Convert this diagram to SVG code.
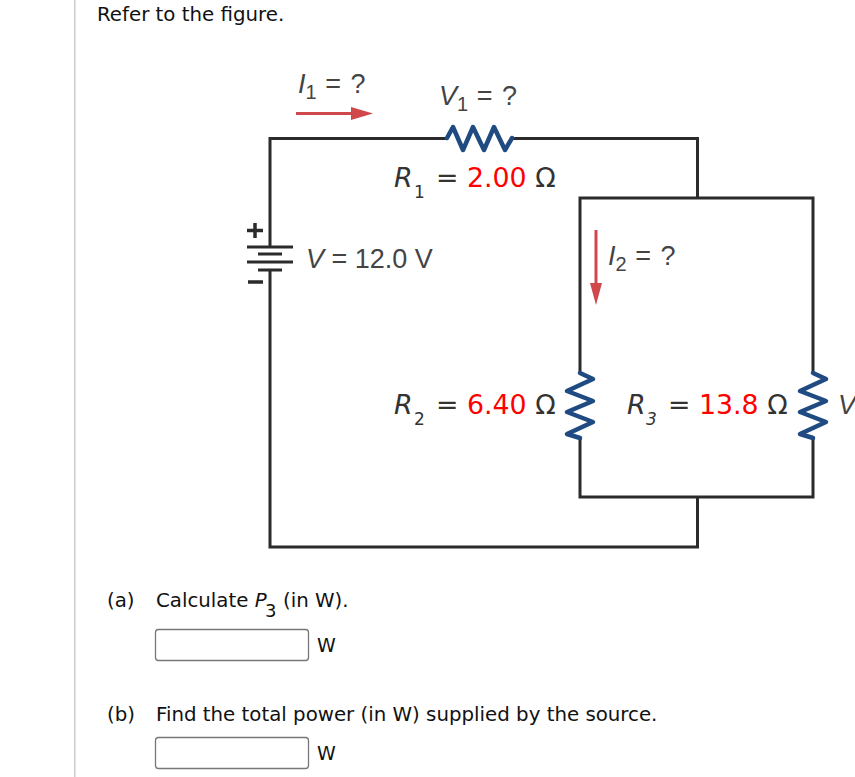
<svg xmlns="http://www.w3.org/2000/svg" width="855" height="777" viewBox="0 0 855 777">
<style>
text{font-family:"DejaVu Sans",Verdana,sans-serif}
.q{font-size:19.800px;fill:#111}
.f{font-size:26.800px;fill:#333}
.r{fill:#f00}
.s{font-size:17px}
.g{font-family:"Liberation Sans",Arial,sans-serif;font-size:27px;fill:#444}
.gs{font-size:20px}
.e{letter-spacing:1px}
.i{font-style:italic}
.w{fill:none;stroke:#2b2b2b;stroke-width:3;stroke-linejoin:miter}
.res{fill:none;stroke:#1f4a82;stroke-width:4.500;stroke-linejoin:round;stroke-linecap:round}
.b{fill:#fff;stroke:#777;stroke-width:1.3}
</style>
<defs>
<path id="zz" class="res" d="M0 0L13 6L-13 18L13 28L-13 39L13 49L-13 61L0 65"/>
</defs>
<rect width="855" height="777" fill="#fff"/>
<rect x="74" y="0" width="1.500" height="777" fill="#ccc"/>
<text class="q" x="97" y="21">Refer to the figure.</text>
<g id="connectors">
<path class="w" d="M270 247V138.500H447M512 138.500H697.500V198M580 373V198H813V373M580 438V497H813V438M697.500 497V547H270V270"/>
</g>
<g id="battery">
<path fill="none" stroke="#2b2b2b" stroke-width="3" d="M247 247H293M258 254H282M247 262H293M258 270H282"/>
<path fill="none" stroke="#2b2b2b" stroke-width="3.500" d="M247 230.500H263M255 223V238M248 282H263"/>
<text class="g" x="306" y="268"><tspan class="i">V</tspan> = 12.0 V</text>
</g>
<g id="r1">
<path class="res" d="M447 138L453 127L463 150L473 127L484 150L494 127L505 150L512 138"/>
<text class="g" x="439" y="105"><tspan class="i">V</tspan><tspan class="gs" dy="6">1</tspan><tspan class="e" dy="-6"> = ?</tspan></text>
<text class="f" x="394" y="187"><tspan class="i">R</tspan></text>
<text class="s" x="414" y="198" fill="#333">1</text>
<text class="f" x="436" y="187">= <tspan class="r">2.00</tspan> Ω</text>
</g>
<g id="i1">
<text class="g" x="298" y="93"><tspan class="i">I</tspan><tspan class="gs" dy="6">1</tspan><tspan class="e" dy="-6"> = ?</tspan></text>
<path d="M296 113.500H352" stroke="#d0474c" stroke-width="3" fill="none"/>
<path d="M351 107L373 113.500L351 120Z" fill="#d0474c"/>
</g>
<g id="i2">
<path d="M596 230V285" stroke="#d0474c" stroke-width="3" fill="none"/>
<path d="M590 283L596 305L602 283Z" fill="#d0474c"/>
<text class="g" x="608" y="265"><tspan class="i">I</tspan><tspan class="gs" dy="6">2</tspan><tspan class="e" dy="-6"> = ?</tspan></text>
</g>
<g id="r2">
<use href="#zz" x="580" y="373"/>
<text class="f" x="394" y="414"><tspan class="i">R</tspan></text>
<text class="s" x="414" y="425" fill="#333">2</text>
<text class="f" x="436" y="414">= <tspan class="r">6.40</tspan> Ω</text>
</g>
<g id="r3">
<use href="#zz" x="813" y="373"/>
<text class="f" x="627" y="414"><tspan class="i">R</tspan></text>
<text class="s i" x="646" y="425" fill="#333">3</text>
<text class="f" x="668" y="414">= <tspan class="r">13.8</tspan> Ω</text>
<text class="g" x="838" y="414"><tspan class="i">V</tspan></text>
</g>
<g id="part-a">
<text class="q" x="107" y="607">(a)</text>
<text class="q" x="156" y="607">Calculate <tspan class="i">P</tspan></text>
<text class="q" x="265" y="617" style="font-size:18px">3</text>
<text class="q" x="283" y="607">(in W).</text>
<rect class="b" x="155.500" y="629.500" width="153" height="31" rx="3"/>
<text class="q" x="317" y="652" style="font-size:19px">W</text>
</g>
<g id="part-b">
<text class="q" x="107" y="721">(b)</text>
<text class="q" x="156" y="721">Find the total power (in W) supplied by the source.</text>
<rect class="b" x="155.500" y="737.500" width="153" height="31" rx="3"/>
<text class="q" x="317" y="760" style="font-size:19px">W</text>
</g>
</svg>
